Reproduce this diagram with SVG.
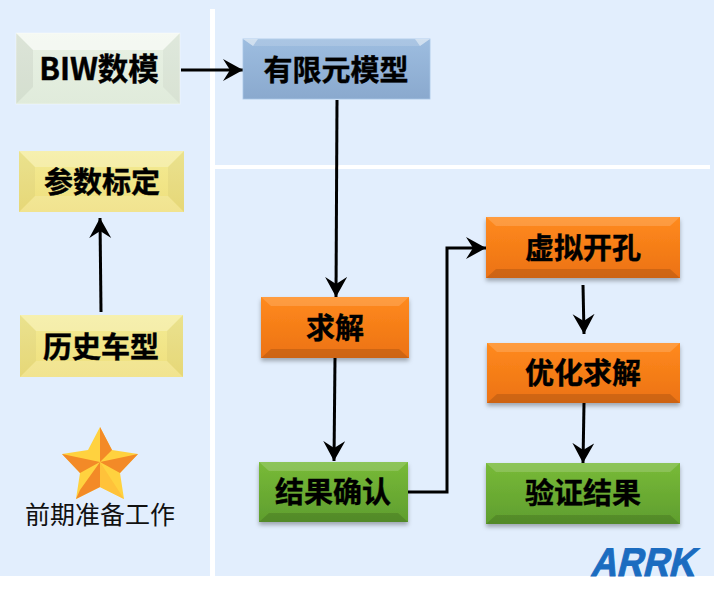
<svg xmlns="http://www.w3.org/2000/svg" width="714" height="590" viewBox="0 0 714 590">
<style>
.t{font-family:"Noto Sans CJK SC","Liberation Sans",sans-serif;font-weight:700;font-size:29px;fill:#000;stroke:#000;stroke-width:.4;text-anchor:middle}
.c{fill:none;stroke:#000;stroke-width:3;marker-end:url(#ah)}
.sep{fill:#fff}
.sd{fill:#000;opacity:.035}
.ol{fill:#fff;opacity:.16}.os{fill:#000;opacity:.13}
</style>
<defs>
<marker id="ah" markerUnits="userSpaceOnUse" markerWidth="22" markerHeight="24" refX="20" refY="11" orient="auto"><path d="M0 0L20 11L0 22L7 11Z" fill="#000"/></marker>
<linearGradient id="gB" x1="0" y1="0" x2="0" y2="1"><stop offset="0" stop-color="#e8f1e4"/><stop offset="1" stop-color="#e0ebdb"/></linearGradient>
<linearGradient id="gY" x1="0" y1="0" x2="0" y2="1"><stop offset="0" stop-color="#f3eb94"/><stop offset="1" stop-color="#efdf7c"/></linearGradient>
<linearGradient id="gL" x1="0" y1="0" x2="0" y2="1"><stop offset="0" stop-color="#9dbde0"/><stop offset="1" stop-color="#8aa9ce"/></linearGradient>
<linearGradient id="gO" x1="0" y1="0" x2="0" y2="1"><stop offset="0" stop-color="#ff8a1e"/><stop offset="1" stop-color="#ec7212"/></linearGradient>
<linearGradient id="gG" x1="0" y1="0" x2="0" y2="1"><stop offset="0" stop-color="#78ba38"/><stop offset="1" stop-color="#5f9e2e"/></linearGradient>
<filter id="sh" x="-10%" y="-10%" width="120%" height="130%"><feDropShadow dx="0" dy="3" stdDeviation="2" flood-color="#000" flood-opacity=".3"/></filter>
</defs>
<rect width="714" height="590" fill="#fff"/>
<rect width="714" height="576" fill="#e2eefd"/>
<rect class="sep" x="210" y="9" width="5" height="567"/>
<rect class="sep" x="210" y="165" width="500" height="4"/>
<g id="connectors">
<path class="c" d="M181 70H243"/>
<path class="c" d="M337 100L336 297"/>
<path class="c" d="M101 312L100 218"/>
<path class="c" d="M335 358L334 461"/>
<path class="c" d="M408 492H447V248H486"/>
<path class="c" d="M583 285L584 334"/>
<path class="c" d="M584 403L583 463"/>
</g>
<g id="biw">
<rect x="16" y="33" width="164" height="71" fill="url(#gB)"/>
<path fill="#fff" opacity=".55" d="M16 33H180L163 50H33Z"/>
<path fill="#000" opacity=".05" d="M16 33L33 50V87L16 104Z"/><path class="sd" d="M180 33L163 50V87L180 104Z"/>
<rect x="16" y="33" width="164" height="71" fill="none" stroke="#fff" stroke-opacity=".4"/>
<text class="t" x="99" y="80" style="font-size:30.5px">BIW数模</text>
</g>
<g id="param">
<rect x="19" y="151" width="165" height="61" fill="url(#gY)"/>
<path fill="#fff" opacity=".25" d="M19 151H184L168 167H35Z"/><path fill="#fff" opacity=".15" d="M19 212H184L168 196H35Z"/>
<path class="sd" d="M19 151L35 167V196L19 212Z"/><path class="sd" d="M184 151L168 167V196L184 212Z"/>
<text class="t" x="102" y="193">参数标定</text>
</g>
<g id="history">
<rect x="20" y="315" width="163" height="62" fill="url(#gY)"/>
<path fill="#fff" opacity=".25" d="M20 315H183L167 331H36Z"/><path fill="#fff" opacity=".15" d="M20 377H183L167 361H36Z"/>
<path class="sd" d="M20 315L36 331V361L20 377Z"/><path class="sd" d="M183 315L167 331V361L183 377Z"/>
<text class="t" x="101" y="358">历史车型</text>
</g>
<g id="fem">
<rect x="243" y="39" width="187" height="60" fill="url(#gL)" stroke="#a9c6e6" stroke-width=".8"/>
<path fill="#fff" opacity=".45" d="M243 39H258L253 46Z"/><path fill="#fff" opacity=".45" d="M430 39H415L420 46Z"/>
<path fill="#fff" opacity=".14" d="M243 39H430L420 46H253Z"/>
<text class="t" x="336" y="81">有限元模型</text>
</g>
<g id="solve">
<rect x="261" y="297" width="148" height="61" fill="url(#gO)" filter="url(#sh)"/>
<path class="ol" d="M261 297H409L399 306H271Z"/><path class="os" d="M261 358H409L399 349H271Z"/>
<text class="t" x="335" y="339">求解</text>
</g>
<g id="confirm">
<rect x="259" y="462" width="149" height="60" fill="url(#gG)" filter="url(#sh)"/>
<path class="ol" d="M259 462H408L398 471H269Z"/><path class="os" d="M259 522H408L398 513H269Z"/>
<text class="t" x="333" y="503">结果确认</text>
</g>
<g id="hole">
<rect x="486" y="217" width="194" height="61" fill="url(#gO)" filter="url(#sh)"/>
<path class="ol" d="M486 217H680L670 226H496Z"/><path class="os" d="M486 278H680L670 269H496Z"/>
<text class="t" x="583" y="259">虚拟开孔</text>
</g>
<g id="optimize">
<rect x="487" y="343" width="193" height="60" fill="url(#gO)" filter="url(#sh)"/>
<path class="ol" d="M487 343H680L670 352H497Z"/><path class="os" d="M487 403H680L670 394H497Z"/>
<text class="t" x="583" y="384">优化求解</text>
</g>
<g id="verify">
<rect x="486" y="463" width="194" height="61" fill="url(#gG)" filter="url(#sh)"/>
<path class="ol" d="M486 463H680L670 472H496Z"/><path class="os" d="M486 524H680L670 515H496Z"/>
<text class="t" x="583" y="504">验证结果</text>
</g>
<g id="star">
<path fill="#ffd23f" d="M100 427L112 450L138 454L120 473L124 499L100 487L76 499L80 473L62 454L88 450Z"/>
<path fill="#f38a27" d="M100 427L112 450L100 462ZM138 454L120 473L100 462ZM100 462L100 487L76 499L80 490ZM62 454L100 462L80 473Z"/>
<path fill="#ffc23a" d="M100 462L124 499L100 487Z"/>
<text x="100" y="524" font-family="'Noto Sans CJK SC',sans-serif" font-size="25" fill="#111" text-anchor="middle">前期准备工作</text>
</g>
<g id="logo">
<text x="0" y="0" transform="translate(590 576) skewX(-14)" font-family="'Liberation Sans',sans-serif" font-weight="700" font-size="40" fill="#1b6cc0" stroke="#1b6cc0" stroke-width="1" textLength="104" lengthAdjust="spacingAndGlyphs">ARRK</text>
</g>
</svg>
